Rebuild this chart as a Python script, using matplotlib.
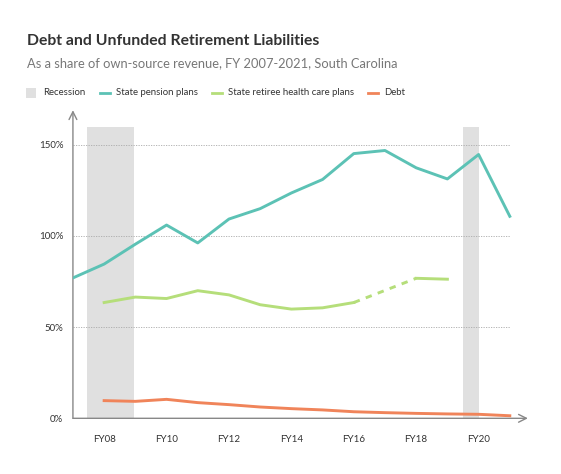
import matplotlib
matplotlib.use("Agg")
from matplotlib import pyplot as plt
from matplotlib.lines import Line2D
from matplotlib.patches import Rectangle

plt.rcParams['font.family'] = ['Lato', 'DejaVu Sans']

# data (share of own-source revenue, %)
years = list(range(2007, 2022))
pension = [77, 84.6, 95.5, 106, 96.2, 109.3, 115, 123.6, 131, 145.2, 146.9, 137.4, 131.3, 144.7, 110.8]
health_years = [2008, 2009, 2010, 2011, 2012, 2013, 2014, 2015, 2016]
health = [63.5, 66.5, 65.7, 70, 67.7, 62.3, 59.9, 60.6, 63.5]
health_gap_years = [2016, 2018]
health_gap = [63.5, 76.8]
health_late_years = [2018, 2019]
health_late = [76.8, 76.3]
debt_years = list(range(2008, 2022))
debt = [9.7, 9.3, 10.4, 8.6, 7.5, 6.2, 5.3, 4.6, 3.6, 3.1, 2.7, 2.4, 2.2, 1.4]
recessions = [(2007.45, 2008.96), (2019.5, 2020.0)]
tick_years = [2008, 2010, 2012, 2014, 2016, 2018, 2020]
tick_labels = ['FY08', 'FY10', 'FY12', 'FY14', 'FY16', 'FY18', 'FY20']
y_ticks = [0, 50, 100, 150]

teal = '#5cc2b5'
green = '#b5de7a'
orange = '#f0845a'
shade = '#e0e0e0'

fig = plt.figure(figsize=(5.61, 4.74), dpi=100)
ax = fig.add_axes([0.130, 0.1175, 0.811, 0.650])
ax.set_xlim(2007, 2021.58)
ax.set_ylim(0, 169)

for a, b in recessions:
    ax.axvspan(a, b, ymin=0, ymax=160 / 169, color=shade, lw=0, zorder=0)

ax.hlines([50, 100, 150], 2007, 2021, colors='#aaaaaa', linestyles=(0, (1.5, 1.5)), lw=0.6, zorder=1)

ax.plot(years, pension, color=teal, lw=2.1, zorder=3)
ax.plot(health_years, health, color=green, lw=2.1, zorder=3)
ax.plot(health_gap_years, health_gap, color=green, lw=2.1, ls=(0, (2.2, 2.2)), zorder=3)
ax.plot(health_late_years, health_late, color=green, lw=2.1, zorder=3)
ax.plot(debt_years, debt, color=orange, lw=2.1, zorder=3)

for s in ax.spines.values():
    s.set_visible(False)

ax.annotate('', xy=(1.0, 0), xytext=(0, 0), xycoords='axes fraction',
            arrowprops=dict(arrowstyle='->', color='#888888', lw=1, shrinkA=0, shrinkB=0,
                            mutation_scale=14), zorder=2)
ax.annotate('', xy=(0, 1.0), xytext=(0, 0), xycoords='axes fraction',
            arrowprops=dict(arrowstyle='->', color='#888888', lw=1, shrinkA=0, shrinkB=0,
                            mutation_scale=14), zorder=2)

ax.set_xticks(tick_years)
ax.set_xticklabels(tick_labels)
ax.set_yticks(y_ticks)
ax.set_yticklabels([f'{v}%' for v in y_ticks])
ax.tick_params(axis='x', length=0, pad=12, labelsize=7, labelcolor='#333333')
ax.tick_params(axis='y', length=0, pad=7, labelsize=7, labelcolor='#333333')

fig.text(27 / 561, 1 - 45 / 474, 'Debt and Unfunded Retirement Liabilities',
         fontsize=11.3, fontweight='bold', color='#333333', va='baseline')
fig.text(27 / 561, 1 - 67 / 474, 'As a share of own-source revenue, FY 2007-2021, South Carolina',
         fontsize=9.3, color='#777777', va='baseline')

# legend
ly = 1 - 92.5 / 474
fig.add_artist(Rectangle((26 / 561, ly - 5 / 474), 10 / 561, 10 / 474,
                         transform=fig.transFigure, color=shade, lw=0))
fig.text(43 / 561, ly, 'Recession', fontsize=6.9, color='#333333', va='center')
for x0, col, lab in [(100, teal, 'State pension plans'),
                     (212, green, 'State retiree health care plans'),
                     (368, orange, 'Debt')]:
    fig.add_artist(Line2D([x0 / 561, (x0 + 10) / 561], [ly, ly], transform=fig.transFigure,
                          color=col, lw=2))
    fig.text((x0 + 16) / 561, ly, lab, fontsize=6.9, color='#333333', va='center')

fig.savefig('out.png', dpi=100)
